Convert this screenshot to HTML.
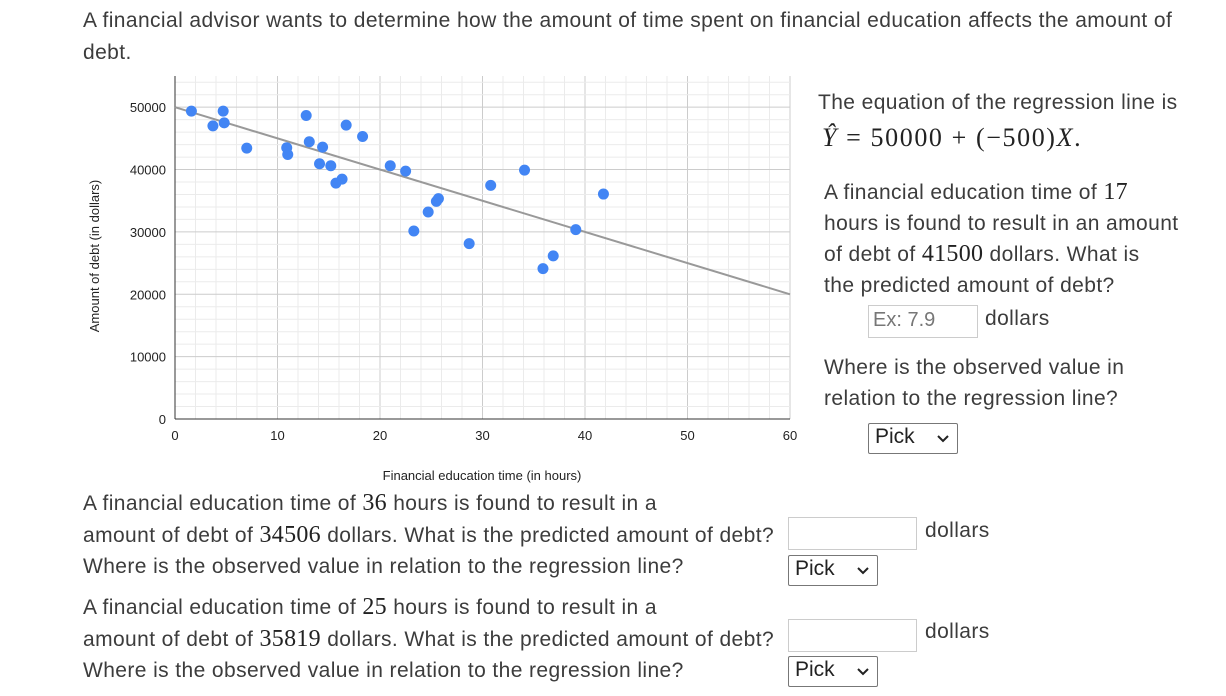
<!DOCTYPE html>
<html><head><meta charset="utf-8">
<style>
body{margin:0;width:1226px;height:696px;background:#fff;position:relative;overflow:hidden;font-family:"Liberation Sans",sans-serif;color:#3c3c3c}
.t{position:absolute;font-size:21px;line-height:31px;white-space:nowrap;letter-spacing:0.4px}
.m{font-family:"Liberation Serif",serif;font-size:24px;color:#222;letter-spacing:0.3px}
.eq{font-family:"Liberation Serif",serif;font-size:26px;color:#222;letter-spacing:1.6px}
.inp{position:absolute;border:1px solid #ccc;background:#fff;box-sizing:border-box;font-size:20px;color:#777;padding:3px 4px}
.sel{position:absolute;border:1px solid #777;border-radius:2px;background:#fff;box-sizing:border-box;font-size:21px;color:#222;padding:1px 6px}
.sel svg{position:absolute;right:8px;top:11px}
</style></head><body>
<div class="t" style="left:83px;top:5px;line-height:32px">A financial advisor wants to determine how the amount of time spent on financial education affects the amount of<br>debt.</div>

<svg id="chart" width="1226" height="696" style="position:absolute;left:0;top:0"></svg>

<div class="t" style="left:818px;top:87px">The equation of the regression line is</div>
<div class="t eq" style="left:822px;top:122px"><i>Ŷ</i> = 50000 + (−500)<i>X</i>.</div>
<div class="t" style="left:824px;top:177px">A financial education time of <span class="m">17</span><br>hours is found to result in an amount<br>of debt of <span class="m">41500</span> dollars. What is<br>the predicted amount of debt?</div>
<div class="inp" style="left:868px;top:305px;width:110px;height:33px">Ex: 7.9</div>
<div class="t" style="left:985px;top:303px">dollars</div>
<div class="t" style="left:824px;top:352px">Where is the observed value in<br>relation to the regression line?</div>
<div class="sel" style="left:868px;top:423px;width:90px;height:31px">Pick<svg width="12" height="8"><path d="M1 1 L6 6 L11 1" stroke="#222" stroke-width="2" fill="none"/></svg></div>

<div class="t" style="left:83px;top:488px;line-height:31.5px">A financial education time of <span class="m">36</span> hours is found to result in a<br>amount of debt of <span class="m">34506</span> dollars. What is the predicted amount of debt?<br>Where is the observed value in relation to the regression line?</div>
<div class="inp" style="left:788px;top:517px;width:129px;height:33px"></div>
<div class="t" style="left:925px;top:515px">dollars</div>
<div class="sel" style="left:788px;top:555px;width:90px;height:31px">Pick<svg width="12" height="8"><path d="M1 1 L6 6 L11 1" stroke="#222" stroke-width="2" fill="none"/></svg></div>

<div class="t" style="left:83px;top:592px;line-height:31.5px">A financial education time of <span class="m">25</span> hours is found to result in a<br>amount of debt of <span class="m">35819</span> dollars. What is the predicted amount of debt?<br>Where is the observed value in relation to the regression line?</div>
<div class="inp" style="left:788px;top:619px;width:129px;height:33px"></div>
<div class="t" style="left:925px;top:616px">dollars</div>
<div class="sel" style="left:788px;top:656px;width:90px;height:31px">Pick<svg width="12" height="8"><path d="M1 1 L6 6 L11 1" stroke="#222" stroke-width="2" fill="none"/></svg></div>

<script>
const xValues=[1.6,4.7,3.7,4.8,7.0,10.9,11.0,12.8,13.1,14.4,14.1,15.2,15.7,16.3,16.7,18.3,21.0,22.5,23.3,24.7,25.5,25.7,28.7,30.8,34.1,35.9,36.9,39.1,41.8];
const yValues=[49360,49360,47010,47490,43440,43490,42420,48660,44450,43600,40930,40610,37830,38470,47120,45300,40610,39750,30150,33190,34900,35330,28120,37460,39910,24120,26150,30360,36070];
const xTicks=[0,10,20,30,40,50,60];
const yTicks=[0,10000,20000,30000,40000,50000];
const intercept=50000, slope=-500;
const L=175,R=790,B=419,T=76,XMAX=60,YMAX=55000;
const sx=v=>L+(R-L)*v/XMAX, sy=v=>B-(B-T)*v/YMAX;
const svg=document.getElementById('chart');const NS='http://www.w3.org/2000/svg';
function mk(t,a){const e=document.createElementNS(NS,t);for(const k in a)e.setAttribute(k,a[k]);svg.appendChild(e);return e;}
for(let v=0;v<=XMAX;v+=2){const e=mk('line',{x1:sx(v),x2:sx(v),y1:T,y2:B,stroke:v%10==0?'#ccc':'#ebebeb','stroke-width':1});

}
for(let v=0;v<=YMAX;v+=2000){const e=mk('line',{x1:L,x2:R,y1:sy(v),y2:sy(v),stroke:v%10000==0?'#ccc':'#ebebeb','stroke-width':1});

}
let ax=mk('line',{x1:L,x2:R,y1:B,y2:B,stroke:'#333','stroke-width':1});


let ay=mk('line',{x1:L,x2:L,y1:T,y2:B,stroke:'#333','stroke-width':1});


xTicks.forEach(v=>{const e=mk('text',{x:sx(v),y:440,'text-anchor':'middle','font-size':13,fill:'#222','font-family':'Liberation Sans'});e.textContent=v;

});
yTicks.forEach(v=>{const e=mk('text',{x:166,y:sy(v)+5,'text-anchor':'end','font-size':13,fill:'#222','font-family':'Liberation Sans'});e.textContent=v;

});
let xt=mk('text',{x:482,y:480,'text-anchor':'middle','font-size':13,fill:'#222','font-family':'Liberation Sans'});xt.textContent='Financial education time (in hours)';


let yt=mk('text',{x:0,y:0,'text-anchor':'middle','font-size':13,fill:'#222','font-family':'Liberation Sans',transform:'translate(99,256) rotate(-90)'});yt.textContent='Amount of debt (in dollars)';


let rl=mk('line',{x1:sx(0),y1:sy(intercept),x2:sx(XMAX),y2:sy(intercept+slope*XMAX),stroke:'#999','stroke-width':2});


xValues.forEach((x,i)=>{const c=mk('circle',{cx:sx(x),cy:sy(yValues[i]),r:5.5,fill:'#4285f4'});

});
</script>
</body></html>
